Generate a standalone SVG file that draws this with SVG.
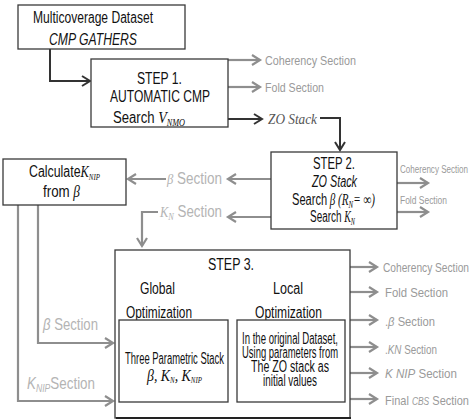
<svg xmlns="http://www.w3.org/2000/svg" width="474" height="420" viewBox="0 0 474 420">
<style>
.box{fill:#fff;stroke:#3a3a3a;stroke-width:1.3}
.t{font-family:"Liberation Sans",Arial,sans-serif;fill:#111;font-size:16px}
.m{font-family:"Liberation Serif","Times New Roman",serif;font-style:italic}
.g{font-family:"Liberation Sans",Arial,sans-serif;fill:#9a9a9a}
.gl{font-family:"Liberation Sans",Arial,sans-serif;fill:#b4b4b4}
.dk{fill:none;stroke:#333;stroke-width:2}
.gr{fill:none;stroke:#8e8e8e;stroke-width:2.2}
</style>
<defs>
<marker id="ad" markerUnits="userSpaceOnUse" markerWidth="12" markerHeight="12" refX="10" refY="5" orient="auto" overflow="visible">
<path d="M2,0 L10,5 L2,10" fill="none" stroke="#333" stroke-width="2"/>
</marker>
<marker id="ag" markerUnits="userSpaceOnUse" markerWidth="12" markerHeight="12" refX="10" refY="5" orient="auto" overflow="visible">
<path d="M2,0 L10,5 L2,10" fill="none" stroke="#8e8e8e" stroke-width="2.2"/>
</marker>
</defs>

<g id="connectors">
<path class="dk" d="M50,49 V81 H90" marker-end="url(#ad)"/>
<path class="gr" d="M228,60 H260" marker-end="url(#ag)"/>
<path class="gr" d="M228,87 H260" marker-end="url(#ag)"/>
<path class="dk" d="M228,119 H262" marker-end="url(#ad)"/>
<path class="dk" d="M320,118 H340 V150" marker-end="url(#ad)"/>
<path class="gr" d="M397,183 H428" marker-end="url(#ag)"/>
<path class="gr" d="M397,212 H428" marker-end="url(#ag)"/>
<path class="gr" d="M271,179 H228" marker-end="url(#ag)"/>
<path class="gr" d="M166,179 H128" marker-end="url(#ag)"/>
<path class="gr" d="M271,217 H228" marker-end="url(#ag)"/>
<path class="gr" d="M158,212 H142 V246" marker-end="url(#ag)"/>
<path class="gr" d="M38,205 V343 H113" marker-end="url(#ag)"/>
<path class="gr" d="M18,205 V401 H113" marker-end="url(#ag)"/>
<path class="gr" d="M350,267 H377" marker-end="url(#ag)"/>
<path class="gr" d="M350,292 H377" marker-end="url(#ag)"/>
<path class="gr" d="M350,320 H377" marker-end="url(#ag)"/>
<path class="gr" d="M350,347 H377" marker-end="url(#ag)"/>
<path class="gr" d="M350,373 H377" marker-end="url(#ag)"/>
<path class="gr" d="M350,399 H377" marker-end="url(#ag)"/>
</g>

<g id="labels">
<text class="g" x="265" y="65" font-size="13" textLength="91" lengthAdjust="spacingAndGlyphs">Coherency Section</text>
<text class="g" x="265" y="92" font-size="13" textLength="59" lengthAdjust="spacingAndGlyphs">Fold Section</text>
<text class="m" x="268" y="124" font-size="15" fill="#555" textLength="49" lengthAdjust="spacingAndGlyphs">ZO Stack</text>
<text class="g" x="400" y="173" font-size="10" textLength="68" lengthAdjust="spacingAndGlyphs">Coherency Section</text>
<text class="g" x="400" y="204" font-size="10" textLength="47" lengthAdjust="spacingAndGlyphs">Fold Section</text>
<text class="gl" x="167" y="184" font-size="16" textLength="55" lengthAdjust="spacingAndGlyphs"><tspan class="m" font-size="15">β</tspan> Section</text>
<text class="gl" x="160" y="217" font-size="16" textLength="62" lengthAdjust="spacingAndGlyphs"><tspan class="m" font-size="15">K</tspan><tspan class="m" font-size="10" dy="3">N</tspan><tspan dy="-3"> Section</tspan></text>
<text class="gl" x="43" y="330" font-size="17" textLength="55" lengthAdjust="spacingAndGlyphs"><tspan font-style="italic">β</tspan> Section</text>
<text class="gl" x="27" y="389" font-size="17" textLength="68" lengthAdjust="spacingAndGlyphs"><tspan font-style="italic">K</tspan><tspan font-style="italic" font-size="11" dy="3">NIP</tspan><tspan dy="-3">Section</tspan></text>
<text class="g" x="383" y="272" font-size="13" textLength="86" lengthAdjust="spacingAndGlyphs">Coherency Section</text>
<text class="g" x="385" y="297" font-size="13" textLength="63" lengthAdjust="spacingAndGlyphs">Fold  Section</text>
<text class="g" x="385" y="326" font-size="13" textLength="50" lengthAdjust="spacingAndGlyphs">.<tspan font-style="italic">β</tspan> Section</text>
<text class="g" x="385" y="354" font-size="13" textLength="52" lengthAdjust="spacingAndGlyphs">.<tspan font-style="italic">KN</tspan> Section</text>
<text class="g" x="385" y="378" font-size="13" textLength="72" lengthAdjust="spacingAndGlyphs"><tspan font-style="italic">K NIP</tspan> Section</text>
<text class="g" x="385" y="405" font-size="13" textLength="84" lengthAdjust="spacingAndGlyphs">Final <tspan font-style="italic" font-size="10">CBS</tspan> Section</text>
</g>

<g id="dataset">
<rect class="box" x="18" y="5" width="167" height="44"/>
<text class="t" x="33" y="23" textLength="120" lengthAdjust="spacingAndGlyphs">Multicoverage Dataset</text>
<text class="t" x="49" y="45" font-style="italic" textLength="88" lengthAdjust="spacingAndGlyphs">CMP GATHERS</text>
</g>

<g id="step1">
<rect class="box" x="91" y="59" width="137" height="68"/>
<text class="t" x="137" y="84" textLength="45" lengthAdjust="spacingAndGlyphs">STEP 1.</text>
<text class="t" x="110" y="102" textLength="100" lengthAdjust="spacingAndGlyphs">AUTOMATIC CMP</text>
<text class="t" x="113" y="123" textLength="72" lengthAdjust="spacingAndGlyphs">Search <tspan class="m" font-size="17">V</tspan><tspan class="m" font-size="10" dy="3">NMO</tspan></text>
</g>

<g id="step2">
<rect class="box" x="271" y="152" width="126" height="77"/>
<text class="t" x="313" y="169" font-size="15" textLength="42" lengthAdjust="spacingAndGlyphs">STEP 2.</text>
<text class="t" x="312" y="187" font-size="15" font-style="italic" textLength="45" lengthAdjust="spacingAndGlyphs">ZO Stack</text>
<text class="t" x="292" y="205" font-size="15" textLength="83" lengthAdjust="spacingAndGlyphs">Search<tspan class="m"> β (R</tspan><tspan class="m" font-size="10" dy="3">N</tspan><tspan class="m" dy="-3">= ∞)</tspan></text>
<text class="t" x="310" y="222" font-size="15" textLength="45" lengthAdjust="spacingAndGlyphs">Search <tspan class="m" font-size="16">K</tspan><tspan class="m" font-size="10" dy="3">N</tspan></text>
</g>

<g id="calc">
<rect class="box" x="3" y="159" width="123" height="46"/>
<text class="t" x="29" y="177" font-size="15" textLength="71" lengthAdjust="spacingAndGlyphs">Calculate<tspan class="m" font-size="16">K</tspan><tspan class="m" font-size="9" dy="3">NIP</tspan></text>
<text class="t" x="43" y="197" font-size="15" textLength="37" lengthAdjust="spacingAndGlyphs">from <tspan class="m" font-size="16">β</tspan></text>
</g>

<g id="step3">
<rect class="box" x="115" y="250" width="235" height="168"/>
<line x1="116" y1="418" x2="351" y2="418" stroke="#222" stroke-width="2"/>
<text class="t" x="208" y="270" textLength="46" lengthAdjust="spacingAndGlyphs">STEP 3.</text>
<text class="t" x="140" y="294" textLength="35" lengthAdjust="spacingAndGlyphs">Global</text>
<text class="t" x="126" y="318" textLength="66" lengthAdjust="spacingAndGlyphs">Optimization</text>
<text class="t" x="273" y="294" textLength="30" lengthAdjust="spacingAndGlyphs">Local</text>
<text class="t" x="255" y="318" textLength="67" lengthAdjust="spacingAndGlyphs">Optimization</text>
<g id="global">
<rect class="box" x="119" y="320" width="109" height="82"/>
<text class="t" x="125" y="364" font-size="13" textLength="99" lengthAdjust="spacingAndGlyphs">Three Parametric Stack</text>
<text class="t m" x="147" y="381" font-size="14" textLength="55" lengthAdjust="spacingAndGlyphs">β, K<tspan font-size="8" dy="2">N</tspan><tspan dy="-2">, K</tspan><tspan font-size="8" dy="2">NIP</tspan></text>
</g>
<g id="local">
<rect class="box" x="237" y="320" width="108" height="82"/>
<text class="t" x="290" y="344" font-size="13" text-anchor="middle" textLength="96" lengthAdjust="spacingAndGlyphs">In the original Dataset,</text>
<text class="t" x="290" y="358" font-size="13" text-anchor="middle" textLength="96" lengthAdjust="spacingAndGlyphs">Using parameters from</text>
<text class="t" x="290" y="372" font-size="13" text-anchor="middle" textLength="78" lengthAdjust="spacingAndGlyphs">The ZO stack as</text>
<text class="t" x="290" y="386" font-size="13" text-anchor="middle" textLength="54" lengthAdjust="spacingAndGlyphs">initial values</text>
</g>
</g>
</svg>
